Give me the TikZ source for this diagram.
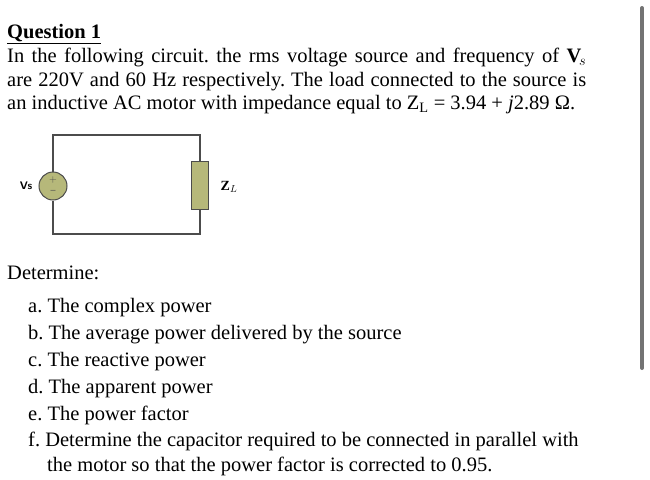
\documentclass[tikz,border=0pt]{standalone}
\usepackage{fontspec}
\setmainfont{Liberation Serif}
\definecolor{compfill}{RGB}{182,184,122}
\begin{document}
\frenchspacing
\begin{tikzpicture}[x=1pt,y=-1pt,
  txt/.style={anchor=base west,inner sep=0pt,font=\fontsize{20.5}{22}\selectfont},
  wire/.style={draw=black!70,line width=1.2pt}]
\useasboundingbox (0,0) rectangle (650,479);
\draw[line width=4pt,line cap=round,draw=black!55] (642,8) -- (642,368);
\node[txt] (q) at (7,38) {\textbf{\underline{Question 1}}};
\node[txt] (l1) at (7,62) {\makebox[579pt][s]{In the following circuit. the rms voltage source and frequency of $\mathbf{V}_{\!s}$}};
\node[txt] (l2) at (7,86) {\makebox[579pt][s]{are 220V and 60 Hz respectively. The load connected to the source is}};
\node[txt] (l3) at (7,109) {an inductive AC motor with impedance equal to Z$_\mathrm{L}$ = 3.94 + \textit{j}2.89 Ω.};
% circuit
\coordinate (tr) at (200,135);
\coordinate (br) at (200,234);
\node[circle,draw=black!70,line width=1pt,fill=compfill,minimum size=28pt,inner sep=0pt] (vs) at (53,186) {};
\node[font=\fontsize{10}{10}\selectfont\sffamily,text=black!70] (plus) at (53,180) {+};
\node[font=\fontsize{10}{10}\selectfont\sffamily,text=black!70] (minus) at (53,192) {--};
\node[draw=black!70,line width=1pt,fill=compfill,minimum width=17pt,minimum height=48pt,inner sep=0pt] (zl) at (200,185) {};
\path[wire] (vs.north) |- (tr) -- (zl.north);
\path[wire] (vs.south) |- (br) -- (zl.south);
\node[font=\bfseries\sffamily\fontsize{11}{12}\selectfont] (vl) at (26,186) {Vs};
\node[font=\fontsize{14}{15}\selectfont] (zlab) at (229,187) {$\mathbf{Z}_{L}$};
\node[txt] (d) at (7,279) {Determine:};
\node[txt] (a) at (28,312) {a. The complex power};
\node[txt] (b) at (28,339) {b. The average power delivered by the source};
\node[txt] (c) at (28,366) {c. The reactive power};
\node[txt] (dd) at (28,393) {d. The apparent power};
\node[txt] (e) at (28,420) {e. The power factor};
\node[txt] (f) at (28,446) {f. Determine the capacitor required to be connected in parallel with};
\node[txt] (g) at (47,471) {the motor so that the power factor is corrected to 0.95.};
\end{tikzpicture}
\end{document}
